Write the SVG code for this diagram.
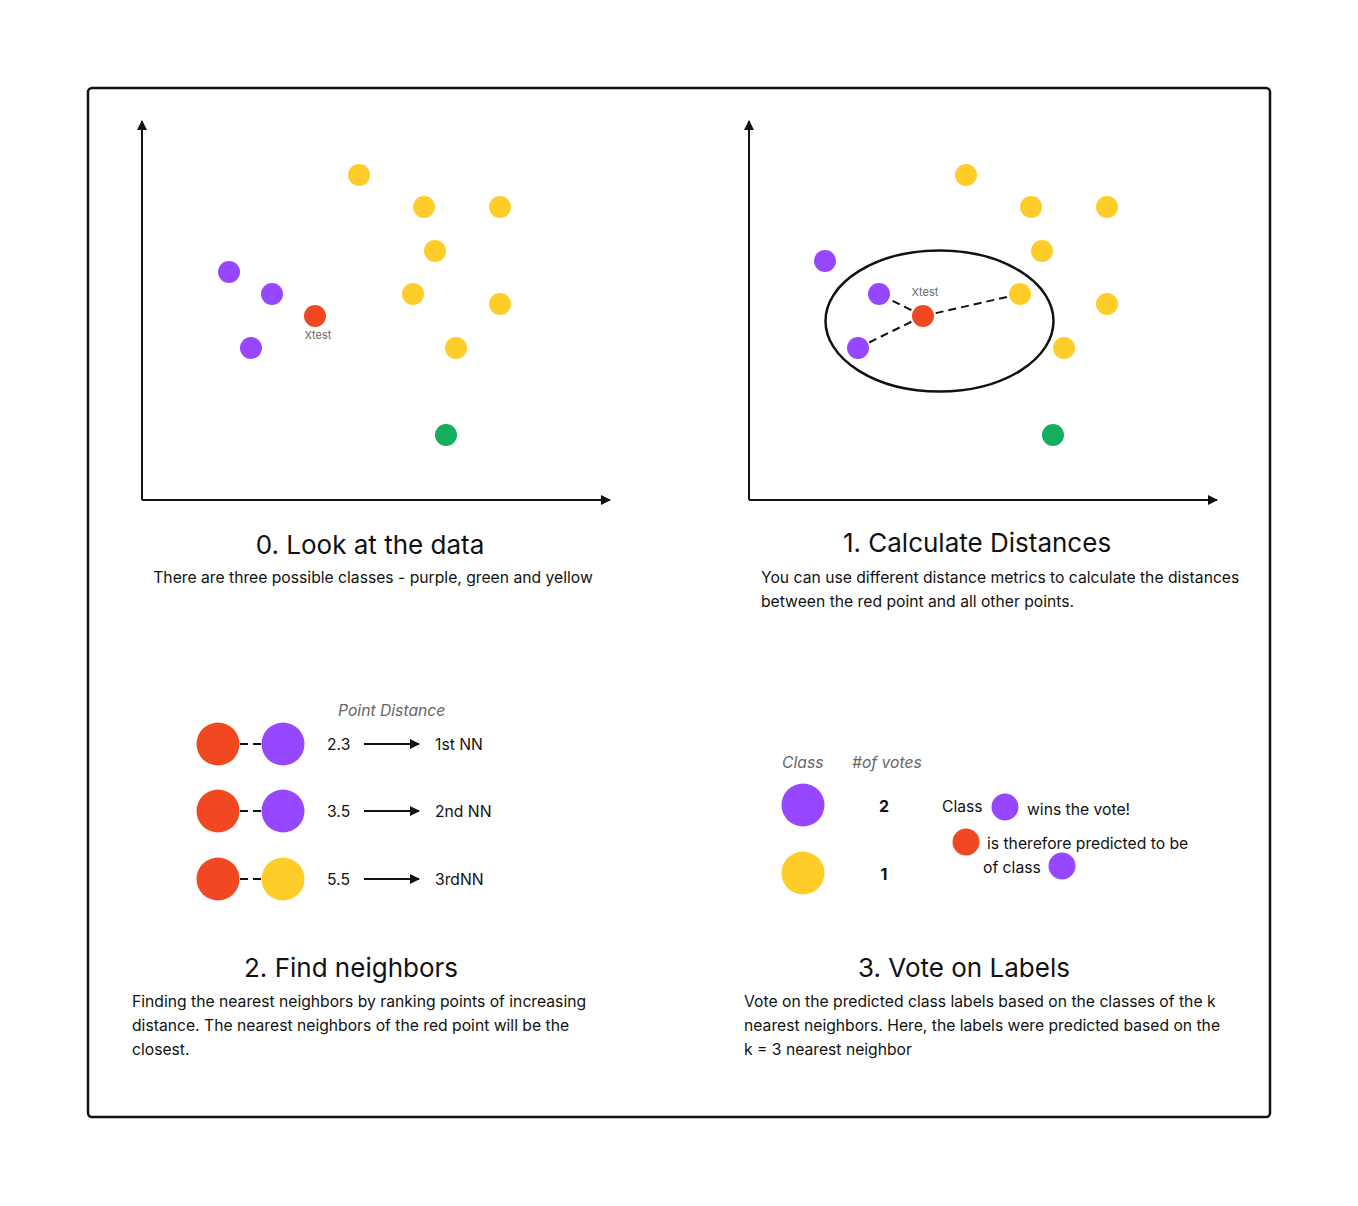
<svg xmlns="http://www.w3.org/2000/svg" width="1358" height="1206" viewBox="0 0 1358 1206">
<style>
text{font-family:Inter,"Noto Sans","Liberation Sans",sans-serif;fill:#111}
.t{font-size:26px}
.b{font-size:15.7px}
.s{font-size:11px;fill:#666}
.i{font-size:15.7px;font-style:italic;fill:#666}
.n{font-size:16px;font-weight:bold}
.p{fill:#9747FF}
.r{fill:#F24822}
.y{fill:#FFCD29}
.g{fill:#14AE5C}
.ax{stroke:#111;stroke-width:2;fill:none}
.d{stroke:#111;stroke-width:2;stroke-dasharray:8 5;fill:none}
</style>
<defs>
<marker id="ah" viewBox="0 0 10 10" refX="9" refY="5" markerWidth="10" markerHeight="10" markerUnits="userSpaceOnUse" orient="auto">
<path d="M0,0 L10,5 L0,10 Z" fill="#111"/>
</marker>
</defs>
<rect width="1358" height="1206" fill="#fff"/>
<rect id="frame" x="88" y="88" width="1182" height="1029" rx="4" fill="none" stroke="#111" stroke-width="2.5"/>

<g id="connectors">
<line class="ax" x1="142" y1="500" x2="142" y2="121" marker-end="url(#ah)"/>
<line class="ax" x1="142" y1="500" x2="610" y2="500" marker-end="url(#ah)"/>
<line class="ax" x1="749" y1="500" x2="749" y2="121" marker-end="url(#ah)"/>
<line class="ax" x1="749" y1="500" x2="1217" y2="500" marker-end="url(#ah)"/>
<line class="d" x1="923" y1="316" x2="879" y2="294"/>
<line class="d" x1="923" y1="316" x2="858" y2="348"/>
<line class="d" x1="923" y1="316" x2="1020" y2="294"/>
<line class="d" x1="240" y1="744" x2="262" y2="744" stroke-dasharray="7 4"/>
<line class="d" x1="240" y1="811" x2="262" y2="811" stroke-dasharray="7 4"/>
<line class="d" x1="240" y1="879" x2="262" y2="879" stroke-dasharray="7 4"/>
<line class="ax" x1="364" y1="744" x2="419" y2="744" marker-end="url(#ah)"/>
<line class="ax" x1="364" y1="811" x2="419" y2="811" marker-end="url(#ah)"/>
<line class="ax" x1="364" y1="879" x2="419" y2="879" marker-end="url(#ah)"/>
</g>

<g id="panel0">
<circle class="y" cx="359" cy="175" r="11"/>
<circle class="y" cx="424" cy="207" r="11"/>
<circle class="y" cx="500" cy="207" r="11"/>
<circle class="y" cx="435" cy="251" r="11"/>
<circle class="y" cx="413" cy="294" r="11"/>
<circle class="y" cx="500" cy="304" r="11"/>
<circle class="y" cx="456" cy="348" r="11"/>
<circle class="p" cx="229" cy="272" r="11"/>
<circle class="p" cx="272" cy="294" r="11"/>
<circle class="p" cx="251" cy="348" r="11"/>
<circle class="r" cx="315" cy="316" r="11"/>
<text class="s" x="318" y="339" text-anchor="middle">Xtest</text>
<circle class="g" cx="446" cy="435" r="11"/>
<text class="t" x="370" y="554" text-anchor="middle">0. Look at the data</text>
<text class="b" x="373" y="583" text-anchor="middle">There are three possible classes - purple, green and yellow</text>
</g>

<g id="panel1">
<ellipse cx="939.5" cy="321" rx="114" ry="70.5" fill="none" stroke="#111" stroke-width="2.5"/>
<circle class="y" cx="966" cy="175" r="11"/>
<circle class="y" cx="1031" cy="207" r="11"/>
<circle class="y" cx="1107" cy="207" r="11"/>
<circle class="y" cx="1042" cy="251" r="11"/>
<circle class="y" cx="1020" cy="294" r="11"/>
<circle class="y" cx="1107" cy="304" r="11"/>
<circle class="y" cx="1064" cy="348" r="11"/>
<circle class="p" cx="825" cy="261" r="11"/>
<circle class="p" cx="879" cy="294" r="11"/>
<circle class="p" cx="858" cy="348" r="11"/>
<circle class="r" cx="923" cy="316" r="11"/>
<text class="s" x="925" y="296" text-anchor="middle">Xtest</text>
<circle class="g" cx="1053" cy="435" r="11"/>
<text class="t" x="977" y="552" text-anchor="middle">1. Calculate Distances</text>
<text class="b" x="761" y="583">You can use different distance metrics to calculate the distances</text>
<text class="b" x="761" y="607">between the red point and all other points.</text>
</g>

<g id="panel2">
<text class="i" x="338" y="716">Point Distance</text>
<circle class="r" cx="218" cy="744" r="21.5"/>
<circle class="p" cx="283" cy="744" r="21.5"/>
<circle class="r" cx="218" cy="811" r="21.5"/>
<circle class="p" cx="283" cy="811" r="21.5"/>
<circle class="r" cx="218" cy="879" r="21.5"/>
<circle class="y" cx="283" cy="879" r="21.5"/>
<text class="b" x="327" y="750">2.3</text>
<text class="b" x="327" y="817">3.5</text>
<text class="b" x="327" y="885">5.5</text>
<text class="b" x="435" y="750">1st NN</text>
<text class="b" x="435" y="817">2nd NN</text>
<text class="b" x="435" y="885">3rdNN</text>
<text class="t" x="351" y="977" text-anchor="middle">2. Find neighbors</text>
<text class="b" x="132" y="1007">Finding the nearest neighbors by ranking points of increasing</text>
<text class="b" x="132" y="1031">distance. The nearest neighbors of the red point will be the</text>
<text class="b" x="132" y="1055">closest.</text>
</g>

<g id="panel3">
<text class="i" x="782" y="768">Class</text>
<text class="i" x="852" y="768">#of votes</text>
<circle class="p" cx="803" cy="805" r="21.5"/>
<circle class="y" cx="803" cy="873" r="21.5"/>
<text class="n" x="884" y="812" text-anchor="middle">2</text>
<text class="n" x="884" y="880" text-anchor="middle">1</text>
<text class="b" x="942" y="812">Class</text>
<circle class="p" cx="1005" cy="807" r="13.5"/>
<text class="b" x="1027" y="815">wins the vote!</text>
<circle class="r" cx="966" cy="842" r="13.5"/>
<text class="b" x="987" y="849">is therefore predicted to be</text>
<text class="b" x="983" y="873">of class</text>
<circle class="p" cx="1062" cy="866" r="13.5"/>
<text class="t" x="964" y="977" text-anchor="middle">3. Vote on Labels</text>
<text class="b" x="744" y="1007">Vote on the predicted class labels based on the classes of the k</text>
<text class="b" x="744" y="1031">nearest neighbors. Here, the labels were predicted based on the</text>
<text class="b" x="744" y="1055">k = 3 nearest neighbor</text>
</g>
</svg>
